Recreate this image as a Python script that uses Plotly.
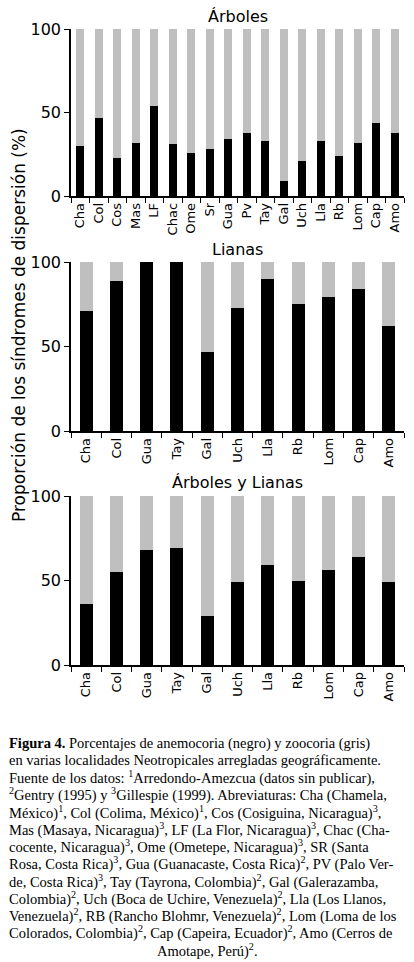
import plotly.graph_objects as go

################## DATA ##################

sitios_arboles = ['Cha', 'Col', 'Cos', 'Mas', 'LF', 'Chac', 'Ome', 'Sr', 'Gua',
                  'Pv', 'Tay', 'Gal', 'Uch', 'Lla', 'Rb', 'Lom', 'Cap', 'Amo']
anemo_arboles = [30, 47, 23, 32, 54, 31, 26, 28, 34, 38, 33, 9, 21, 33, 24, 32, 44, 38]
zoo_arboles = [70, 53, 77, 68, 46, 69, 74, 72, 66, 62, 67, 91, 79, 67, 76, 68, 56, 62]

sitios_lianas = ['Cha', 'Col', 'Gua', 'Tay', 'Gal', 'Uch', 'Lla', 'Rb', 'Lom', 'Cap', 'Amo']
anemo_lianas = [71, 89, 100, 100, 47, 73, 90, 75, 79, 84, 62]
zoo_lianas = [29, 11, 0, 0, 53, 27, 10, 25, 21, 16, 38]

sitios_ambos = ['Cha', 'Col', 'Gua', 'Tay', 'Gal', 'Uch', 'Lla', 'Rb', 'Lom', 'Cap', 'Amo']
anemo_ambos = [36, 55, 68, 69, 29, 49, 59, 50, 56, 64, 49]
zoo_ambos = [64, 45, 32, 31, 71, 51, 41, 50, 44, 36, 51]

y_ticks = [0, 50, 100]

caption_lines = [
    "<b>Figura 4.</b> Porcentajes de anemocoria (negro) y zoocoria (gris)",
    "en varias localidades Neotropicales arregladas geográficamente.",
    "Fuente de los datos: <sup>1</sup>Arredondo-Amezcua (datos sin publicar),",
    "<sup>2</sup>Gentry (1995) y <sup>3</sup>Gillespie (1999). Abreviaturas: Cha (Chamela,",
    "México)<sup>1</sup>, Col (Colima, México)<sup>1</sup>, Cos (Cosiguina, Nicaragua)<sup>3</sup>,",
    "Mas (Masaya, Nicaragua)<sup>3</sup>, LF (La Flor, Nicaragua)<sup>3</sup>, Chac (Cha-",
    "cocente, Nicaragua)<sup>3</sup>, Ome (Ometepe, Nicaragua)<sup>3</sup>, SR (Santa",
    "Rosa, Costa Rica)<sup>3</sup>, Gua (Guanacaste, Costa Rica)<sup>2</sup>, PV (Palo Ver-",
    "de, Costa Rica)<sup>3</sup>, Tay (Tayrona, Colombia)<sup>2</sup>, Gal (Galerazamba,",
    "Colombia)<sup>2</sup>, Uch (Boca de Uchire, Venezuela)<sup>2</sup>, Lla (Los Llanos,",
    "Venezuela)<sup>2</sup>, RB (Rancho Blohmr, Venezuela)<sup>2</sup>, Lom (Loma de los",
    "Colorados, Colombia)<sup>2</sup>, Cap (Capeira, Ecuador)<sup>2</sup>, Amo (Cerros de",
    "Amotape, Perú)<sup>2</sup>.",
]

################## LAYOUT ##################

W, H = 414, 962
FONT = 'DejaVu Sans'
SERIF = 'Liberation Serif'
NEGRO = '#000000'
GRIS = '#bfbfbf'

x_dom = [71 / W, 404 / W]
# (top px, bottom px) of each plot area
panels = [
    ('Árboles', sitios_arboles, anemo_arboles, zoo_arboles, (29, 196)),
    ('Lianas', sitios_lianas, anemo_lianas, zoo_lianas, (262, 431)),
    ('Árboles y Lianas', sitios_ambos, anemo_ambos, zoo_ambos, (496, 665)),
]

fig = go.Figure()
annotations = []

for i, (title, sitios, anemo, zoo, (top, bot)) in enumerate(panels, start=1):
    xa = 'x' if i == 1 else f'x{i}'
    ya = 'y' if i == 1 else f'y{i}'
    fig.add_bar(x=sitios, y=anemo, marker_color=NEGRO, marker_line_width=0,
                xaxis=xa, yaxis=ya, showlegend=False, name='Anemocoria')
    fig.add_bar(x=sitios, y=zoo, marker_color=GRIS, marker_line_width=0,
                xaxis=xa, yaxis=ya, showlegend=False, name='Zoocoria')

    sfx = '' if i == 1 else str(i)
    fig.update_layout(**{
        f'xaxis{sfx}': dict(
            domain=x_dom, anchor=ya, type='category', automargin=False,
            showline=True, linecolor='black', linewidth=1.5,
            ticks='outside', tickson='boundaries', ticklen=5, tickcolor='black',
            tickangle=-90, tickfont=dict(family=FONT, size=13, color='black'),
            showgrid=False, zeroline=False,
        ),
        f'yaxis{sfx}': dict(
            domain=[1 - bot / H, 1 - top / H], anchor=xa, automargin=False,
            range=[0, 100], tickvals=y_ticks,
            showline=True, linecolor='black', linewidth=1.5,
            ticks='outside', ticklen=5, tickcolor='black',
            tickfont=dict(family=FONT, size=16, color='black'),
            showgrid=False, zeroline=False,
        ),
    })

    # panel title
    annotations.append(dict(
        text=title, x=(x_dom[0] + x_dom[1]) / 2, y=1 - (top - 13) / H,
        xref='paper', yref='paper', showarrow=False,
        font=dict(family=FONT, size=16, color='black'),
        xanchor='center', yanchor='middle',
    ))

# shared y title
annotations.append(dict(
    text='Proporción de los síndromes de dispersión (%)',
    x=19 / W, y=1 - 325 / H, xref='paper', yref='paper', showarrow=False,
    textangle=-90, font=dict(family=FONT, size=17, color='black'),
    xanchor='center', yanchor='middle',
))

# caption, line by line
line_h = 17.25
for k, line in enumerate(caption_lines):
    last = k == len(caption_lines) - 1
    annotations.append(dict(
        text=line, x=(W / 2 if last else 7) / W, y=1 - (743 + k * line_h) / H,
        xref='paper', yref='paper', showarrow=False,
        font=dict(family=SERIF, size=14.5, color='black'),
        xanchor='center' if last else 'left', yanchor='middle', align='left',
    ))

fig.update_layout(
    width=W, height=H,
    margin=dict(l=0, r=0, t=0, b=0),
    barmode='stack', bargap=0.57,
    plot_bgcolor='white', paper_bgcolor='white',
    annotations=annotations,
)

# drop the default page margin so the figure sits at the window's corner
fig.write_html('out.html', config={'displayModeBar': False},
               post_script="document.body.style.margin = '0';")
